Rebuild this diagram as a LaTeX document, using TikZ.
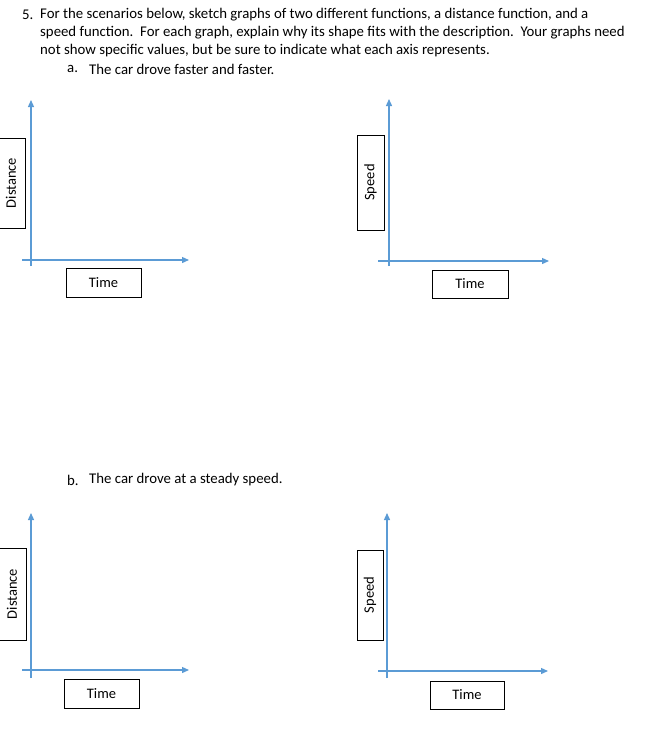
\documentclass[tikz,border=0pt]{standalone}
\usepackage{fontspec}
\setmainfont{Carlito}
\usetikzlibrary{arrows.meta}
\begin{document}
\begin{tikzpicture}[x=1pt,y=-1pt,
  lbl/.style={draw, line width=0.8pt, inner sep=0pt, font=\fontsize{14.5}{16}\selectfont},
  txt/.style={anchor=west, inner sep=0pt, font=\fontsize{14.8}{17}\selectfont}]
\useasboundingbox (0,0) rectangle (645,747);
\tikzset{ax/.style={draw={rgb,255:red,91;green,155;blue,213}, line width=1.3pt,-{Triangle[length=7pt,width=6pt]}}}
\node[txt] (n5) at (22,15) {5.};
\node[txt] (l1) at (40,15) {For the scenarios below, sketch graphs of two different functions, a distance function, and a};
\node[txt] (l2) at (40,33) {speed function.\ \ For each graph, explain why its shape fits with the description.\ \ Your graphs need};
\node[txt] (l3) at (40,51) {not show specific values, but be sure to indicate what each axis represents.};
\node[txt] (na) at (67,69) {a.};
\node[txt] (ta) at (89,69) {The car drove faster and faster.};
\node[txt] (nb) at (67,480) {b.};
\node[txt] (tb) at (89,480) {The car drove at a steady speed.};
% graph 1
\coordinate (a1) at (31,266); \coordinate (a1t) at (31,100);
\coordinate (h1) at (22,260); \coordinate (h1t) at (189,260);
\draw[ax] (a1) -- (a1t); \draw[ax] (h1) -- (h1t);
\node[lbl, minimum width=90, minimum height=28, rotate=90] (d1) at (11,183) {Distance};
\node[lbl, minimum width=75, minimum height=29] (t1) at (103.5,282.5) {Time};
% graph 2
\coordinate (a2) at (389,266); \coordinate (a2t) at (389,99);
\coordinate (h2) at (378,261); \coordinate (h2t) at (549,261);
\draw[ax] (a2) -- (a2t); \draw[ax] (h2) -- (h2t);
\node[lbl, minimum width=95, minimum height=27, rotate=90] (s2) at (370.5,182.5) {Speed};
\node[lbl, minimum width=76, minimum height=28] (t2) at (470,284) {Time};
% graph 3
\coordinate (a3) at (31,678); \coordinate (a3t) at (31,513);
\coordinate (h3) at (22,670); \coordinate (h3t) at (189,670);
\draw[ax] (a3) -- (a3t); \draw[ax] (h3) -- (h3t);
\node[lbl, minimum width=92, minimum height=28, rotate=90] (d3) at (12,594) {Distance};
\node[lbl, minimum width=75, minimum height=29] (t3) at (101.5,693.5) {Time};
% graph 4
\coordinate (a4) at (387,678); \coordinate (a4t) at (387,513);
\coordinate (h4) at (378,671); \coordinate (h4t) at (548,671);
\draw[ax] (a4) -- (a4t); \draw[ax] (h4) -- (h4t);
\node[lbl, minimum width=90, minimum height=26, rotate=90] (s4) at (370,595) {Speed};
\node[lbl, minimum width=74, minimum height=28] (t4) at (467,695) {Time};
\end{tikzpicture}
\end{document}
